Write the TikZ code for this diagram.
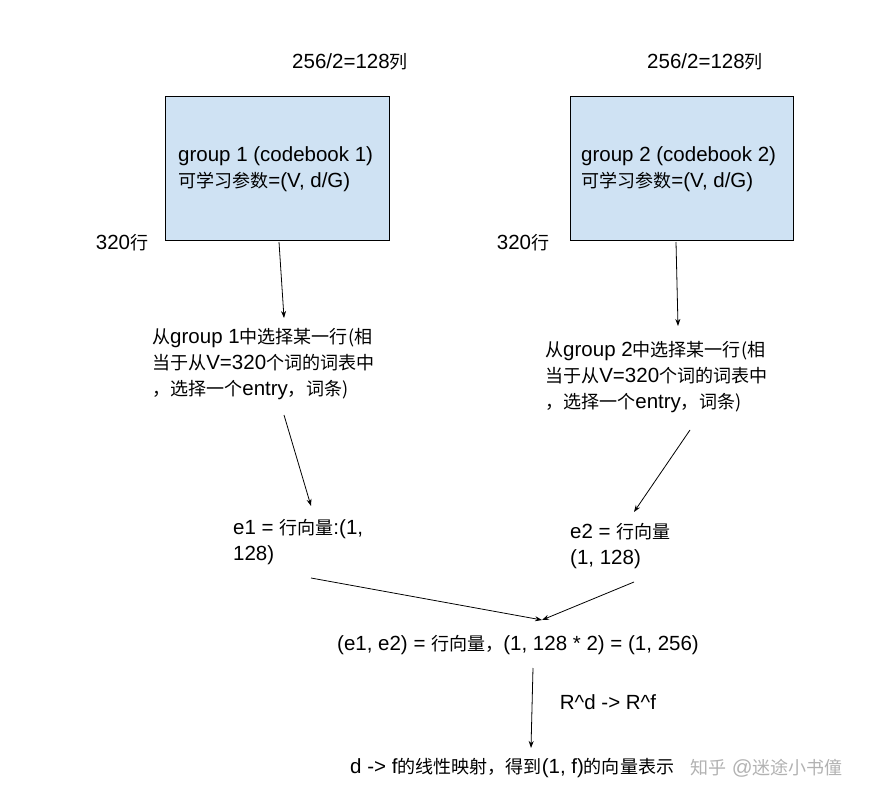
\documentclass[tikz,border=0pt]{standalone}
\usepackage{fontspec}
\setmainfont{Liberation Sans}
\newfontfamily\zh[Scale=0.88]{Noto Sans CJK SC}
\usetikzlibrary{arrows.meta}
\begin{document}
\begin{tikzpicture}[x=1pt,y=-1pt,
  txt/.style={font=\fontsize{20.5}{26}\selectfont,inner sep=0pt},
  blk/.style={txt,align=left,anchor=north west},
  box/.style={draw=black,fill={rgb,255:red,207;green,226;blue,243},line width=0.7pt},
  arr/.style={-{Stealth[length=7pt,width=5pt]},line width=0.8pt}]
\useasboundingbox (0,0) rectangle (892,805);
\draw[box] (165,96) rectangle (389,240);
\draw[box] (570,96) rectangle (793,240);
\node[txt] (c1) at (350,62) {256/2=128{\zh 列}};
\node[txt] (c2) at (705,62) {256/2=128{\zh 列}};
\node[txt] (r1) at (122,243) {320{\zh 行}};
\node[txt] (r2) at (523,243) {320{\zh 行}};
\node[blk] (g1) at (178,146) {group 1 (codebook 1)\\{\zh 可学习参数}=(V, d/G)};
\node[blk] (g2) at (581,146) {group 2 (codebook 2)\\{\zh 可学习参数}=(V, d/G)};
\coordinate (b1) at (279,242); \coordinate (b2) at (676,242);
\node[blk] (s1) at (152,328) {{\zh 从}group 1{\zh 中选择某一行(相}\\{\zh 当于从}V=320{\zh 个词的词表中}\\{\zh ，选择一个}entry{\zh ，词条)}};
\node[blk] (s2) at (545,341) {{\zh 从}group 2{\zh 中选择某一行(相}\\{\zh 当于从}V=320{\zh 个词的词表中}\\{\zh ，选择一个}entry{\zh ，词条)}};
\node[blk] (e1) at (233,519) {e1 = {\zh 行向量}:(1,\\128)};
\node[blk] (e2) at (570,523) {e2 = {\zh 行向量}\\(1, 128)};
\node[txt] (cat) at (518,645) {(e1, e2) = {\zh 行向量，}(1, 128 * 2) = (1, 256)};
\node[txt] (rr) at (608,702) {R\^{}d -> R\^{}f};
\node[txt,anchor=west] (out) at (350,768) {d -> f{\zh 的线性映射，得到}(1, f){\zh 的向量表示}};
\node[txt,anchor=west,text=gray!60] (wm) at (690,768) {{\zh 知乎} @{\zh 迷途小书僮}};
\draw[arr] (b1) -- (284,318);
\draw[arr] (b2) -- (678,326);
\draw[arr] (284,415) -- (311,506);
\draw[arr] (690,430) -- (634,512);
\coordinate (m) at (542,620);
\draw[arr] (311,578) -- (m);
\draw[arr] (634,582) -- (m);
\draw[arr] (533,668) -- (531,748);
\end{tikzpicture}
\end{document}
